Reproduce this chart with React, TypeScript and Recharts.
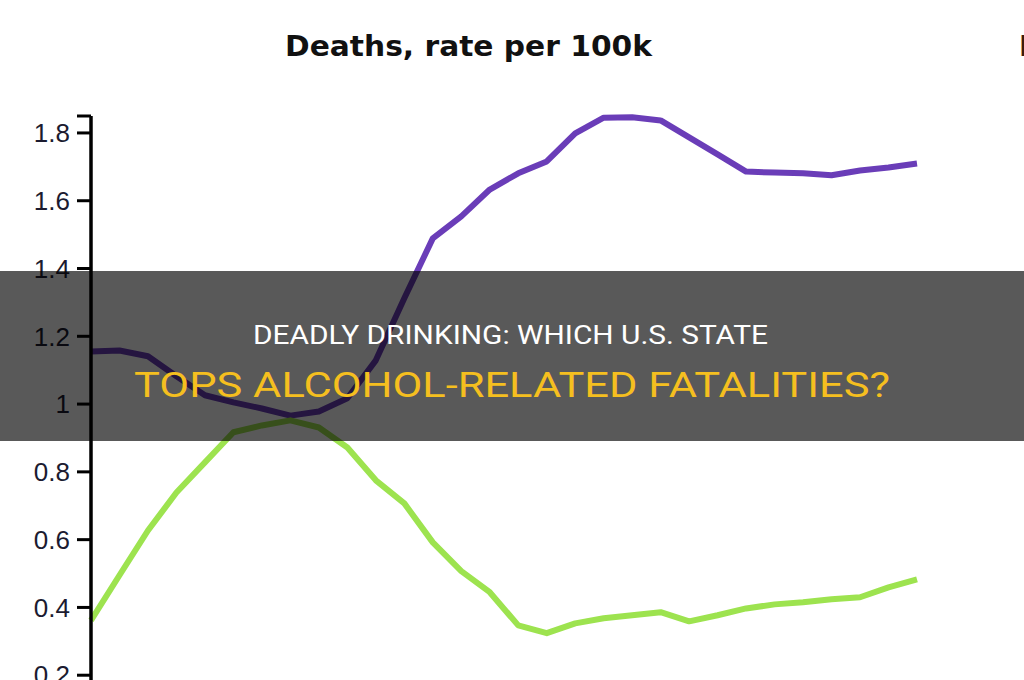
import React from 'react';
import { LineChart, Line, XAxis, YAxis } from 'recharts';

// x categories are not visible in the picture (axis is cut off below)
const years = [
  '1990', '1991', '1992', '1993', '1994', '1995', '1996', '1997', '1998', '1999',
  '2000', '2001', '2002', '2003', '2004', '2005', '2006', '2007', '2008', '2009',
  '2010', '2011', '2012', '2013', '2014', '2015', '2016', '2017', '2018', '2019',
];

const purpleRate = [
  1.155, 1.158, 1.141, 1.082, 1.026, 1.005, 0.987, 0.966, 0.978, 1.017,
  1.129, 1.312, 1.489, 1.554, 1.633, 1.681, 1.716, 1.799, 1.845, 1.846,
  1.837, 1.787, 1.737, 1.686, 1.683, 1.681, 1.675, 1.689, 1.698, 1.71,
];

const greenRate = [
  0.362, 0.495, 0.627, 0.739, 0.828, 0.917, 0.937, 0.952, 0.931, 0.872,
  0.775, 0.707, 0.592, 0.507, 0.445, 0.347, 0.324, 0.353, 0.368, 0.377,
  0.386, 0.359, 0.377, 0.397, 0.409, 0.415, 0.424, 0.43, 0.459, 0.483,
];

// last entry is the axis end cap (no label)
const yTicks = [0.2, 0.4, 0.6, 0.8, 1, 1.2, 1.4, 1.6, 1.8, 1.85];
const yMax = 1.85;

const chartTitle = 'Deaths, rate per 100k';
const headlineTop = 'DEADLY DRINKING: WHICH U.S. STATE';
const headlineBottom = 'TOPS ALCOHOL-RELATED FATALITIES?';

export default function App() {
  const data = years.map((year, i) => ({
    year,
    purple: purpleRate[i],
    green: greenRate[i],
  }));

  return (
    <div
      style={{
        position: 'absolute',
        top: 0,
        left: 0,
        width: 1024,
        height: 680,
        overflow: 'hidden',
        background: '#fff',
      }}
    >
      <div style={{ position: 'absolute', top: 0, left: 0 }}>
        <LineChart
          width={1024}
          height={760}
          data={data}
          margin={{ top: 116, right: 107, left: 11, bottom: 17 }}
        >
          <XAxis dataKey="year" hide />
          <YAxis
            width={80}
            domain={[0, yMax]}
            ticks={yTicks}
            interval={0}
            tickFormatter={(v: number) => (v === yMax ? '' : String(v))}
            axisLine={{ stroke: '#000', strokeWidth: 3.5 }}
            tickLine={{ stroke: '#000', strokeWidth: 3 }}
            tickSize={14}
            tickMargin={7}
            tick={{ fill: '#1b1b30', fontSize: 26, fontFamily: 'Liberation Sans, Arial, sans-serif' }}
          />
          <Line
            type="linear"
            dataKey="purple"
            stroke="#6a3db8"
            strokeWidth={6}
            strokeLinejoin="round"
            dot={false}
            isAnimationActive={false}
          />
          <Line
            type="linear"
            dataKey="green"
            stroke="#9de34f"
            strokeWidth={6}
            strokeLinejoin="round"
            dot={false}
            isAnimationActive={false}
          />
        </LineChart>
      </div>

      <svg
        width={1024}
        height={680}
        style={{ position: 'absolute', top: 0, left: 0, pointerEvents: 'none' }}
      >
        <text
          x={285}
          y={56}
          textLength={367}
          lengthAdjust="spacingAndGlyphs"
          fontSize={28}
          fontWeight="bold"
          fontFamily="DejaVu Sans, Verdana, sans-serif"
          fill="#111"
        >
          {chartTitle}
        </text>
        {/* start of the next chart's title, cut off at the edge */}
        <text
          x={1019}
          y={56}
          fontSize={28}
          fontWeight="bold"
          fontFamily="DejaVu Sans, Verdana, sans-serif"
          fill="#3d1a0e"
        >
          D
        </text>

        <rect x={0} y={271} width={1024} height={170} fill="rgba(0,0,0,0.65)" />
        <text
          x={253}
          y={344}
          textLength={515}
          lengthAdjust="spacingAndGlyphs"
          fontSize={25}
          fontFamily="'Liberation Sans Narrow', Roboto, sans-serif"
          fill="#fff"
        >
          {headlineTop}
        </text>
        <text
          x={134}
          y={397}
          textLength={756}
          lengthAdjust="spacingAndGlyphs"
          fontSize={35}
          fontFamily="'Liberation Sans Narrow', Roboto, sans-serif"
          fill="#f5bf1f"
        >
          {headlineBottom}
        </text>
      </svg>
    </div>
  );
}
